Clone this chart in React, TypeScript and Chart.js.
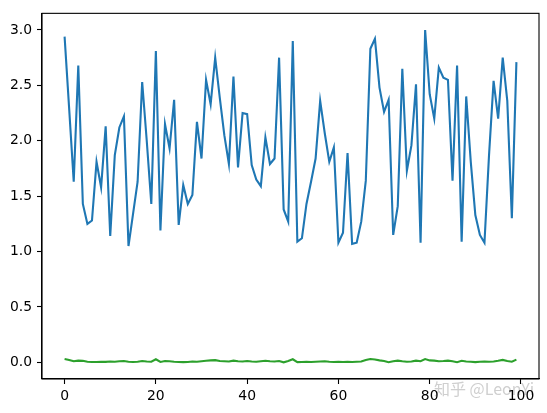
import React, { useEffect, useRef } from "react";
import { Chart, registerables } from "chart.js";

Chart.register(...registerables);

const blueValues: number[] = [
  2.94, 2.29, 1.63, 2.68, 1.43, 1.25, 1.28, 1.81, 1.58, 2.13,
  1.14, 1.87, 2.12, 2.22, 1.05, 1.34, 1.63, 2.53, 2.0, 1.43,
  2.81, 1.19, 2.15, 1.93, 2.37, 1.24, 1.6, 1.43, 1.51, 2.17,
  1.84, 2.55, 2.33, 2.75, 2.39, 2.05, 1.79, 2.58, 1.76, 2.25,
  2.24, 1.78, 1.65, 1.59, 2.03, 1.79, 1.84, 2.75, 1.38, 1.27,
  2.9, 1.09, 1.12, 1.43, 1.63, 1.84, 2.36, 2.07, 1.81, 1.94,
  1.08, 1.17, 1.89, 1.07, 1.08, 1.27, 1.64, 2.83, 2.92, 2.48,
  2.26, 2.37, 1.15, 1.41, 2.65, 1.73, 1.96, 2.51, 1.08, 3.0,
  2.42, 2.2, 2.66, 2.57, 2.55, 1.64, 2.68, 1.09, 2.4, 1.81,
  1.33, 1.15, 1.08, 1.87, 2.54, 2.2, 2.75, 2.36, 1.3, 2.71,
];

const greenValues: number[] = [
  0.031, 0.022, 0.01, 0.016, 0.014, 0.006, 0.004, 0.004, 0.006, 0.005,
  0.008, 0.006, 0.01, 0.012, 0.006, 0.004, 0.006, 0.012, 0.008, 0.006,
  0.028, 0.004, 0.012, 0.01, 0.006, 0.004, 0.002, 0.004, 0.008, 0.006,
  0.01, 0.014, 0.018, 0.02, 0.012, 0.01, 0.008, 0.016, 0.01, 0.008,
  0.012, 0.008, 0.006, 0.01, 0.014, 0.01, 0.008, 0.012, 0.0, 0.012,
  0.028, 0.002, 0.004, 0.006, 0.004, 0.006, 0.008, 0.01, 0.006, 0.004,
  0.006, 0.004, 0.006, 0.004, 0.006, 0.008, 0.022, 0.03, 0.026, 0.018,
  0.012, 0.002, 0.01, 0.016, 0.01, 0.006, 0.008, 0.016, 0.01, 0.03,
  0.018, 0.016, 0.01, 0.012, 0.016, 0.01, 0.002, 0.014, 0.008, 0.006,
  0.002, 0.006, 0.008, 0.006, 0.008, 0.014, 0.022, 0.012, 0.006, 0.025,
];

const xTicks: number[] = [0, 20, 40, 60, 80, 100];
const yTicks: number[] = [0, 0.5, 1.0, 1.5, 2.0, 2.5, 3.0];
const watermark = "知乎 @LeonYi";

const W = 547;
const H = 413;
const FONT = "'DejaVu Sans', sans-serif";

export default function App() {
  const ref = useRef<HTMLCanvasElement | null>(null);

  useEffect(() => {
    if (!ref.current) return;
    const n = blueValues.length;
    const xs = blueValues.map((_, i) => i);
    const all = [...blueValues, ...greenValues];
    const lo = Math.min(...all);
    const hi = Math.max(...all);
    const xLo = 0 - 0.05 * (n - 1);
    const xHi = n - 1 + 0.05 * (n - 1);
    const yLo = lo - 0.05 * (hi - lo);
    const yHi = hi + 0.05 * (hi - lo);

    const frame = {
      id: "frame",
      beforeDraw(chart: any) {
        const ctx = chart.ctx;
        ctx.save();
        ctx.fillStyle = "#ffffff";
        ctx.fillRect(0, 0, chart.width, chart.height);
        ctx.font = `16px 'Noto Sans CJK SC', ${FONT}`;
        ctx.fillStyle = "rgba(160,160,160,0.5)";
        ctx.textAlign = "left";
        ctx.textBaseline = "middle";
        ctx.fillText(watermark, 434, 389);
        ctx.restore();
      },
      afterDraw(chart: any) {
        const { left, right, top, bottom } = chart.chartArea;
        const ctx = chart.ctx;
        ctx.save();
        ctx.strokeStyle = "#000";
        ctx.lineWidth = 1.1;
        ctx.strokeRect(left, top, right - left, bottom - top);
        ctx.restore();
      },
    };

    const chart = new Chart(ref.current, {
      type: "line",
      data: {
        labels: xs,
        datasets: [
          {
            data: blueValues.map((v, i) => ({ x: i, y: v })),
            borderColor: "#1f77b4",
            borderWidth: 2.1,
            pointRadius: 0,
            tension: 0,
            fill: false,
          },
          {
            data: greenValues.map((v, i) => ({ x: i, y: v })),
            borderColor: "#2ca02c",
            borderWidth: 2.1,
            pointRadius: 0,
            tension: 0,
            fill: false,
          },
        ],
      },
      options: {
        animation: false,
        responsive: false,
        devicePixelRatio: 1,
        layout: { padding: { left: 0, right: 8, top: 10, bottom: 0 } },
        plugins: { legend: { display: false }, tooltip: { enabled: false } },
        scales: {
          x: {
            type: "linear",
            min: xLo,
            max: xHi,
            afterBuildTicks: (s: any) => {
              s.ticks = xTicks.map((v) => ({ value: v }));
            },
            afterFit: (s: any) => {
              s.height = 34;
            },
            ticks: {
              color: "#000",
              font: { family: FONT, size: 13.9 },
              padding: 4,
              maxRotation: 0,
              callback: (v: any) => String(v),
            },
            grid: {
              display: true,
              drawOnChartArea: false,
              drawTicks: true,
              tickLength: 5,
              tickColor: "#000",
              tickWidth: 1.1,
            },
            border: { display: true, color: "#000", width: 1.1 },
          },
          y: {
            type: "linear",
            min: yLo,
            max: yHi,
            afterBuildTicks: (s: any) => {
              s.ticks = yTicks.map((v) => ({ value: v }));
            },
            afterFit: (s: any) => {
              s.width = 42;
            },
            ticks: {
              color: "#000",
              font: { family: FONT, size: 13.9 },
              padding: 5,
              callback: (v: any) => Number(v).toFixed(1),
            },
            grid: {
              display: true,
              drawOnChartArea: false,
              drawTicks: true,
              tickLength: 5,
              tickColor: "#000",
              tickWidth: 1.1,
            },
            border: { display: true, color: "#000", width: 1.1 },
          },
        },
      },
      plugins: [frame],
    });
    return () => chart.destroy();
  }, []);

  return (
    <div style={{ position: "fixed", left: 0, top: 0, width: W, height: H, background: "#fff" }}>
      <canvas ref={ref} width={W} height={H} style={{ display: "block" }} />
    </div>
  );
}
